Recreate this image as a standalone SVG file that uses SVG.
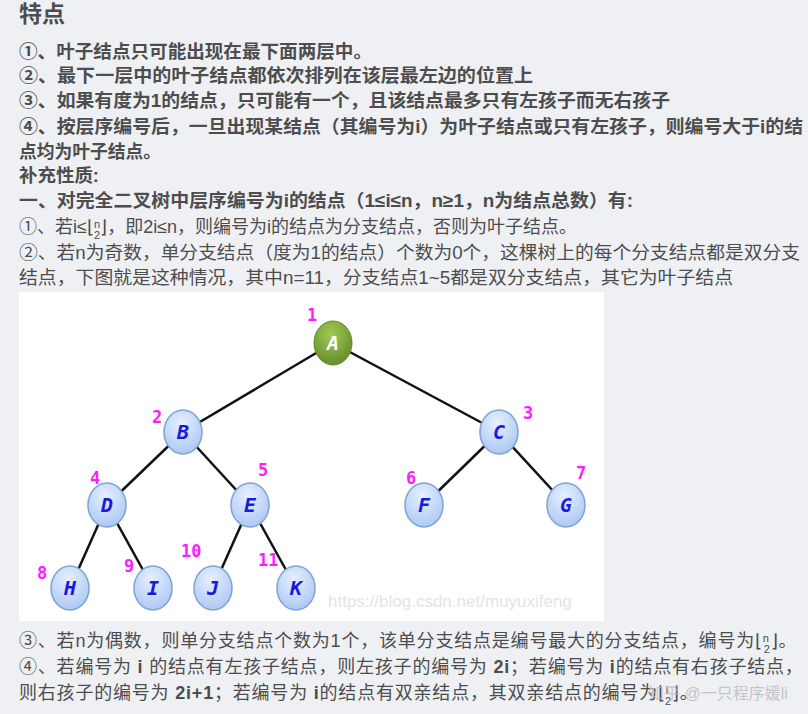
<svg xmlns="http://www.w3.org/2000/svg" width="808" height="714" viewBox="0 0 808 714">
<defs>
<style>
.t{font-family:"Liberation Sans","Noto Sans CJK SC",sans-serif;font-size:18px;fill:#4d4d4d}
.b{font-weight:bold}
.n{fill:url(#blue);stroke:#7ea3d6;stroke-width:1.5}
.l{font-family:"DejaVu Sans Mono",monospace;font-weight:bold;font-style:italic;font-size:20px;fill:#1a1adf;text-anchor:middle}
.num{font-family:"DejaVu Sans Mono",monospace;font-weight:bold;font-size:17px;fill:#ff1aff}
.e{stroke:#111;stroke-width:2.5}
.s{font-size:11px}
</style>
<radialGradient id="blue" cx="0.45" cy="0.3" r="0.75"><stop offset="0" stop-color="#e6f0ff"/><stop offset="1" stop-color="#a9c6f2"/></radialGradient>
<radialGradient id="green" cx="0.45" cy="0.3" r="0.75"><stop offset="0" stop-color="#a3c955"/><stop offset="1" stop-color="#5f8a26"/></radialGradient>
</defs>
<rect width="808" height="714" fill="#eef0f4"/>
<text class="t b" x="19" y="22" style="font-size:23px">特点</text>
<text class="t b" x="19" y="58" textLength="353" lengthAdjust="spacingAndGlyphs">①、叶子结点只可能出现在最下面两层中。</text>
<text class="t b" x="19" y="82" textLength="514" lengthAdjust="spacingAndGlyphs">②、最下一层中的叶子结点都依次排列在该层最左边的位置上</text>
<text class="t b" x="19" y="107" textLength="651" lengthAdjust="spacingAndGlyphs">③、如果有度为1的结点，只可能有一个，且该结点最多只有左孩子而无右孩子</text>
<text class="t b" x="19" y="133" textLength="784" lengthAdjust="spacingAndGlyphs">④、按层序编号后，一旦出现某结点（其编号为i）为叶子结点或只有左孩子，则编号大于i的结</text>
<text class="t b" x="19" y="158" textLength="142" lengthAdjust="spacingAndGlyphs">点均为叶子结点。</text>
<text class="t b" x="19" y="182" textLength="80" lengthAdjust="spacingAndGlyphs">补充性质:</text>
<text class="t b" x="19" y="207" textLength="614" lengthAdjust="spacingAndGlyphs">一、对完全二叉树中层序编号为i的结点（1≤i≤n，n≥1，n为结点总数）有:</text>
<text class="t" x="19" y="233">①、若i≤⌊<tspan class="s" dy="-5">n</tspan><tspan class="s" dx="-6" dy="11">2</tspan><tspan dy="-6">⌋，即2i≤n，则编号为i的结点为分支结点，否则为叶子结点。</tspan></text>
<text class="t" x="19" y="259" textLength="781" lengthAdjust="spacingAndGlyphs">②、若n为奇数，单分支结点（度为1的结点）个数为0个，这棵树上的每个分支结点都是双分支</text>
<text class="t" x="19" y="284" textLength="714" lengthAdjust="spacingAndGlyphs">结点，下图就是这种情况，其中n=11，分支结点1~5都是双分支结点，其它为叶子结点</text>
<rect x="19" y="292" width="585" height="329" fill="#fff"/>
<g id="connectors">
<line class="e" x1="333" y1="343" x2="183" y2="432"/>
<line class="e" x1="333" y1="343" x2="499" y2="432"/>
<line class="e" x1="183" y1="432" x2="107" y2="505"/>
<line class="e" x1="183" y1="432" x2="250" y2="505"/>
<line class="e" x1="499" y1="432" x2="424" y2="505"/>
<line class="e" x1="499" y1="432" x2="566" y2="505"/>
<line class="e" x1="107" y1="505" x2="70" y2="588"/>
<line class="e" x1="107" y1="505" x2="153" y2="588"/>
<line class="e" x1="250" y1="505" x2="213" y2="588"/>
<line class="e" x1="250" y1="505" x2="296" y2="588"/>
</g>
<g id="nA"><ellipse cx="333" cy="343" rx="19" ry="22" fill="url(#green)" stroke="#5c8a2a"/><text class="l" x="333" y="350" style="fill:#fff">A</text><text class="num" x="307" y="321">1</text></g>
<g id="nB"><ellipse class="n" cx="183" cy="432" rx="19" ry="22"/><text class="l" x="183" y="439">B</text><text class="num" x="152" y="423">2</text></g>
<g id="nC"><ellipse class="n" cx="499" cy="432" rx="19" ry="22"/><text class="l" x="499" y="439">C</text><text class="num" x="523" y="419">3</text></g>
<g id="nD"><ellipse class="n" cx="107" cy="505" rx="19" ry="22"/><text class="l" x="107" y="512">D</text><text class="num" x="90" y="484">4</text></g>
<g id="nE"><ellipse class="n" cx="250" cy="505" rx="19" ry="22"/><text class="l" x="250" y="512">E</text><text class="num" x="258" y="476">5</text></g>
<g id="nF"><ellipse class="n" cx="424" cy="505" rx="19" ry="22"/><text class="l" x="424" y="512">F</text><text class="num" x="406" y="484">6</text></g>
<g id="nG"><ellipse class="n" cx="566" cy="505" rx="19" ry="22"/><text class="l" x="566" y="512">G</text><text class="num" x="576" y="479">7</text></g>
<g id="nH"><ellipse class="n" cx="70" cy="588" rx="19" ry="22"/><text class="l" x="70" y="595">H</text><text class="num" x="37" y="579">8</text></g>
<g id="nI"><ellipse class="n" cx="153" cy="588" rx="19" ry="22"/><text class="l" x="153" y="595">I</text><text class="num" x="124" y="572">9</text></g>
<g id="nJ"><ellipse class="n" cx="213" cy="588" rx="19" ry="22"/><text class="l" x="213" y="595">J</text><text class="num" x="181" y="557">10</text></g>
<g id="nK"><ellipse class="n" cx="296" cy="588" rx="19" ry="22"/><text class="l" x="296" y="595">K</text><text class="num" x="258" y="566">11</text></g>
<text x="328" y="607" font-family="Liberation Sans,sans-serif" font-size="17" fill="#e4e4e4">https://blog.csdn.net/muyuxifeng</text>
<text class="t" x="19" y="647" letter-spacing="0.8">③、若n为偶数，则单分支结点个数为1个，该单分支结点是编号最大的分支结点，编号为⌊<tspan class="s" dy="-5">n</tspan><tspan class="s" dx="-6" dy="11">2</tspan><tspan dy="-6">⌋。</tspan></text>
<text class="t" x="19" y="673" letter-spacing="0.8">④、若编号为 <tspan class="b">i</tspan> 的结点有左孩子结点，则左孩子的编号为 <tspan class="b">2i</tspan>；若编号为 <tspan class="b">i</tspan>的结点有右孩子结点，</text>
<text class="t" x="19" y="699" letter-spacing="0.8">则右孩子的编号为 <tspan class="b">2i+1</tspan>；若编号为 <tspan class="b">i</tspan>的结点有双亲结点，其双亲结点的编号为⌊<tspan class="s" dy="-5">i</tspan><tspan class="s" dx="-4" dy="11">2</tspan><tspan dy="-6">⌋。</tspan></text>
<text x="648" y="699" font-family="Liberation Sans,'Noto Sans CJK SC',sans-serif" font-size="16" fill="#bbbbbb" opacity="0.8">知乎 @一只程序媛li</text>
</svg>
